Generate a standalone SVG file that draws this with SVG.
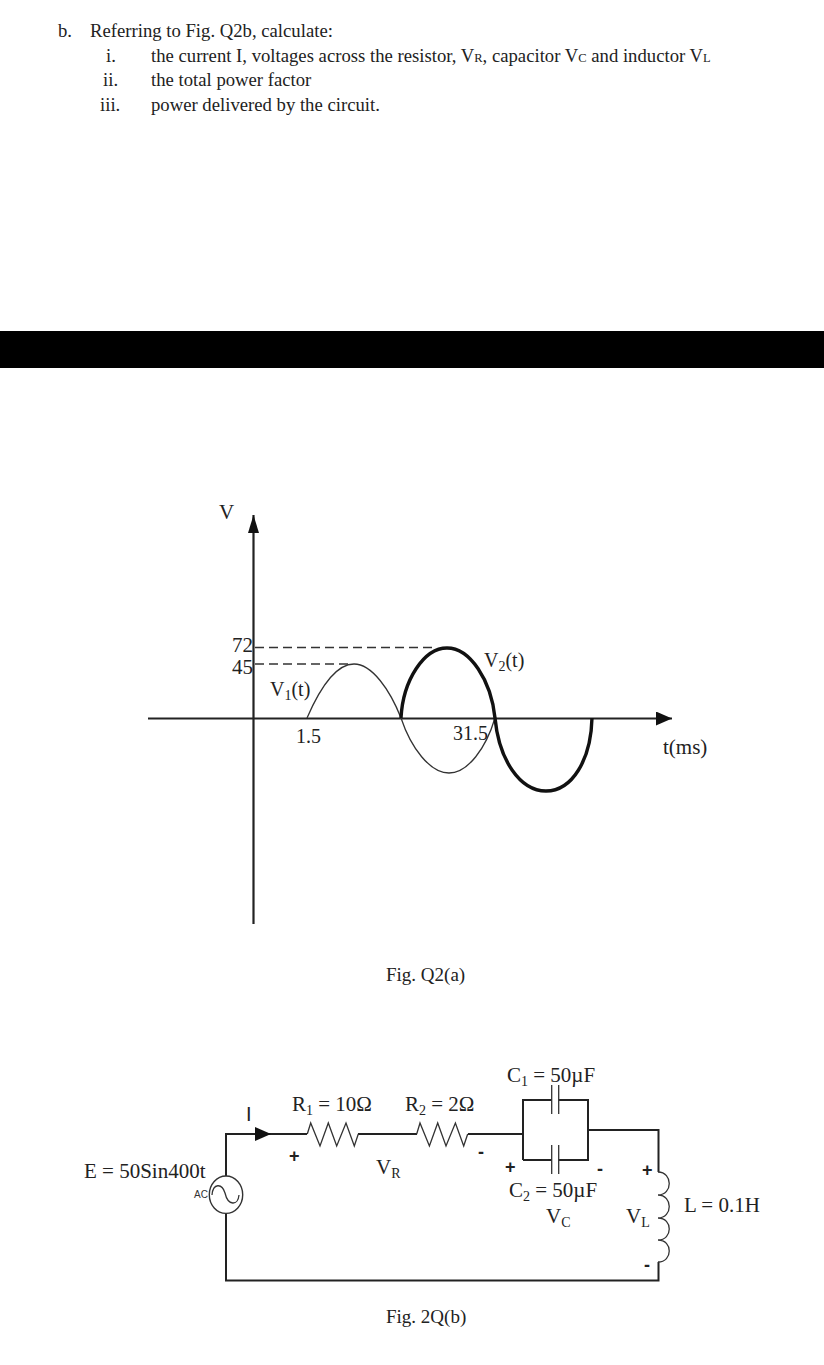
<svg xmlns="http://www.w3.org/2000/svg" width="824" height="1365" viewBox="0 0 824 1365">
<style>
text{font-family:"Liberation Serif","Times New Roman",serif;fill:#222}
.t{font-size:18.7px}
.f{font-size:19px}
.l{font-size:21px}
.m{font-size:20px}
.s{font-size:14px}
.sub{font-size:12.500px}
.sa{font-family:"Liberation Sans",Arial,sans-serif;font-size:10px;fill:#333}
.i{font-family:"Liberation Sans",Arial,sans-serif;font-size:20px;fill:#222}
.pm{font-family:"Liberation Sans",Arial,sans-serif;font-size:18px;font-weight:bold;fill:#222}
.w{fill:none;stroke:#222;stroke-width:2}
.thin{fill:none;stroke:#333;stroke-width:1.3}
.thick{fill:none;stroke:#111;stroke-width:3.4}
.axis{fill:none;stroke:#222;stroke-width:2.2}
.dash{fill:none;stroke:#333;stroke-width:1.6;stroke-dasharray:9 5}
</style>
<defs>
<marker id="ah" markerUnits="userSpaceOnUse" markerWidth="16" markerHeight="14" refX="16" refY="7" orient="auto"><path d="M0 0L16 7L0 14z" fill="#111"/></marker>
<marker id="av" markerUnits="userSpaceOnUse" markerWidth="18" markerHeight="11" refX="18" refY="5.500" orient="auto"><path d="M0 0L18 5.500L0 11z" fill="#111"/></marker>
</defs>
<rect width="824" height="1365" fill="#fff"/>
<rect id="band" x="0" y="331" width="824" height="37" fill="#000"/>
<g id="question">
<text x="58" y="37" class="t">b.</text><text x="90" y="37" class="t">Referring to Fig. Q2b, calculate:</text>
<text x="106" y="62" class="t">i.</text><text x="151" y="62" class="t">the current I, voltages across the resistor, V<tspan class="sub">R</tspan>, capacitor V<tspan class="sub">C</tspan> and inductor V<tspan class="sub">L</tspan></text>
<text x="103" y="86" class="t">ii.</text><text x="151" y="86" class="t">the total power factor</text>
<text x="100" y="111" class="t">iii.</text><text x="151" y="111" class="t">power delivered by the circuit.</text>
</g>
<g id="graph">
<path class="axis" d="M253.500 924V515" marker-end="url(#av)"/>
<path class="axis" d="M148 718.500H672" marker-end="url(#ah)"/>
<path class="dash" d="M255 647.500H436"/>
<path class="dash" d="M255 664H350"/>
<path class="thin" d="M307 718C320 688 336 664 354 664C372 664 390 690 401 718C411 748 430 773 449 773C468 773 486 748 495 718"/>
<path class="thick" d="M401 718C403 680 424 648 447 648C470 648 491 680 495 718C499 760 520 791 546 791C572 791 591 760 592 718"/>
<text x="219" y="519" class="l">V</text>
<text x="232" y="652" class="l">72</text>
<text x="232" y="674" class="l">45</text>
<text x="270" y="696" class="m">V<tspan class="s" dy="4">1</tspan><tspan dy="-4">(t)</tspan></text>
<text x="296" y="743" class="m">1.5</text>
<text x="453" y="740" class="m">31.5</text>
<text x="484" y="667" class="m">V<tspan class="s" dy="4">2</tspan><tspan dy="-4">(t)</tspan></text>
<text x="663" y="754" class="l">t(ms)</text>
<text x="386" y="981" class="f">Fig. Q2(a)</text>
</g>
<g id="connectors">
<path class="w" d="M226 1176V1134H307"/>
<path fill="#111" d="M255 1127L271 1134L255 1141z"/>
<path class="w" d="M226 1213V1280.500H658.500V1262"/>
<path class="w" d="M358 1134H417"/>
<path class="w" d="M468 1134H523"/>
<path class="w" d="M523 1160V1100H552M558.500 1100H588V1160H558.500M552 1160H523M588 1130H658.500V1172"/>
</g>
<g id="R1"><path class="thin" d="M307.300 1134L310.700 1123 320 1146 328.300 1123 336.700 1146 346 1123 354.300 1146 358.300 1134"/></g>
<g id="R2"><path class="thin" d="M416.700 1134L420 1123 429.400 1146 437.700 1123 446 1146 455.400 1123 463.700 1146 467.700 1134"/></g>
<g id="C1"><path class="thin" d="M551.700 1085V1114M558.700 1085V1114"/></g>
<g id="C2"><path class="thin" d="M551.700 1145V1174M558.700 1145V1174"/></g>
<g id="L1"><path class="thin" d="M658 1172C673 1172 673 1195 658 1195C673 1195 673 1218 658 1218C673 1218 673 1240 658 1240C673 1240 673 1262 658 1262"/></g>
<g id="source"><ellipse cx="226" cy="1194.700" rx="16.700" ry="18.700" fill="#fff" stroke="#333" stroke-width="1.4"/><path class="thin" d="M212 1195C213 1183 222 1183 225 1193C228 1206 238 1206 239 1195"/><text x="194" y="1198" class="sa">AC</text></g>
<g id="labels">
<text x="84" y="1178" class="l">E = 50Sin400t</text>
<text x="246" y="1121" class="i">I</text>
<text x="292" y="1111" class="l">R<tspan class="s" dy="4">1</tspan><tspan dy="-4"> = 10Ω</tspan></text>
<text x="405" y="1111" class="l">R<tspan class="s" dy="4">2</tspan><tspan dy="-4"> = 2Ω</tspan></text>
<text x="507" y="1082" class="l">C<tspan class="s" dy="4">1</tspan><tspan dy="-4"> = 50µF</tspan></text>
<text x="509" y="1197" class="l">C<tspan class="s" dy="4">2</tspan><tspan dy="-4"> = 50µF</tspan></text>
<text x="376" y="1174" class="l">V<tspan class="s" dy="4">R</tspan></text>
<text x="546" y="1223" class="l">V<tspan class="s" dy="4">C</tspan></text>
<text x="626" y="1223" class="l">V<tspan class="s" dy="4">L</tspan></text>
<text x="684" y="1212" class="l">L = 0.1H</text>
<text x="289" y="1162" class="pm">+</text>
<text x="478" y="1158" class="pm">-</text>
<text x="505" y="1173" class="pm">+</text>
<text x="597" y="1175" class="pm">-</text>
<text x="642" y="1176" class="pm">+</text>
<text x="644" y="1271" class="pm">-</text>
<text x="386" y="1323" class="f">Fig. 2Q(b)</text>
</g>
</svg>
